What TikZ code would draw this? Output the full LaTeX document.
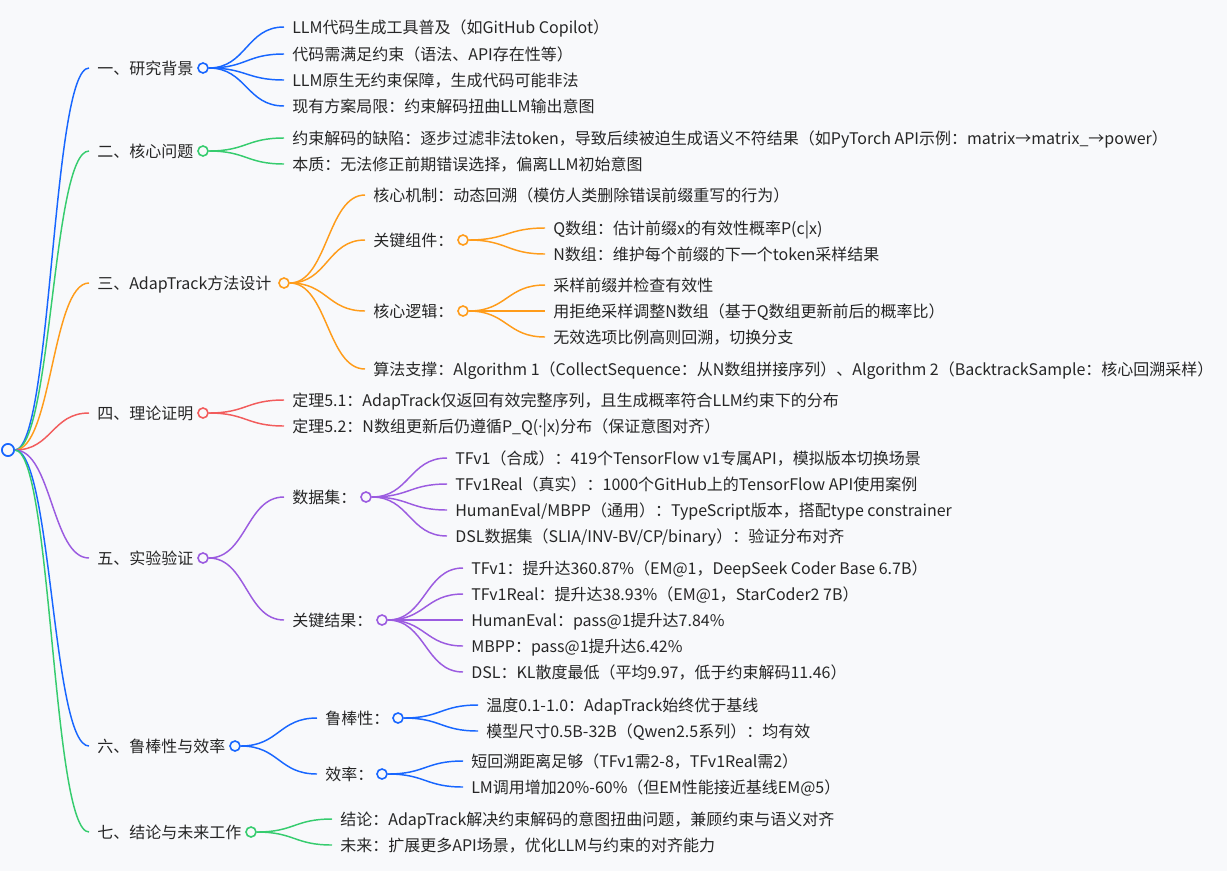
\documentclass[tikz,border=0pt]{standalone}
\usepackage{fontspec}
\setmainfont{Noto Sans CJK SC}
\newfontfamily\latinfont{Noto Sans}
\usetikzlibrary{calc}

\definecolor{paper}{HTML}{F8F9FB}
\definecolor{ink}{HTML}{262626}
\definecolor{mblue}{HTML}{1766FF}
\definecolor{mgreen}{HTML}{36CC6E}
\definecolor{morange}{HTML}{FF9C1A}
\definecolor{mred}{HTML}{F25C5C}
\definecolor{mpurple}{HTML}{9B5BE0}

\tikzset{
  lbl/.style={anchor=west, inner xsep=6pt, inner ysep=0pt, text height=10pt, text depth=1pt,
    text=ink, font=\fontsize{12}{14}\selectfont},
  dot/.style={circle, draw=#1, fill=paper, line width=1.2pt, minimum size=7.5pt, inner sep=0pt},
  mlink/.style={draw=#1, line width=1.1pt,
    to path={let \p1=(\tikztostart), \p2=(\tikztotarget) in
      .. controls ({(\x1+\x2)/2},\y1) and ({(\x1+\x2)/2},\y2) .. (\tikztotarget)}}
}

\begin{document}
\begin{tikzpicture}[x=0.75pt, y=-0.75pt]
  \fill[paper] (0,0) rectangle (1227,871);

  \node[dot=mblue, minimum size=9pt] (root) at (8,450) {};

  % 一
  \node[lbl] (k1) at (89,68) {一、研究背景};
  \node[dot=mblue] (k1o) at (203,68) {};
  \node[lbl] (k1a) at (284,27) {LLM代码生成工具普及（如GitHub Copilot）};
  \node[lbl] (k1b) at (284,54) {代码需满足约束（语法、API存在性等）};
  \node[lbl] (k1c) at (284,80) {LLM原生无约束保障，生成代码可能非法};
  \node[lbl] (k1d) at (284,106) {现有方案局限：约束解码扭曲LLM输出意图};
  \draw[mlink=mblue] (root.east) to (k1.west);
  \foreach \c in {k1a,k1b,k1c,k1d}
    \draw[mlink=mblue] (k1o.east) to (\c.west);

  % 二
  \node[lbl] (k2) at (89,151) {二、核心问题};
  \node[dot=mgreen] (k2o) at (203,151) {};
  \node[lbl] (k2a) at (284,138) {约束解码的缺陷：逐步过滤非法token，导致后续被迫生成语义不符结果（如PyTorch API示例：matrix→matrix\_→power）};
  \node[lbl] (k2b) at (284,164) {本质：无法修正前期错误选择，偏离LLM初始意图};
  \draw[mlink=mgreen] (root.east) to (k2.west);
  \foreach \c in {k2a,k2b}
    \draw[mlink=mgreen] (k2o.east) to (\c.west);

  % 三
  \node[lbl] (k3) at (89,283) {三、AdapTrack方法设计};
  \node[dot=morange] (k3o) at (284,283) {};
  \node[lbl] (k3a) at (365,195) {核心机制：动态回溯（模仿人类删除错误前缀重写的行为）};
  \node[lbl] (k3b) at (365,240) {关键组件：};
  \node[dot=morange] (k3bo) at (463,240) {};
  \node[lbl] (k3b1) at (545,228) {Q数组：估计前缀x的有效性概率P(c|x)};
  \node[lbl] (k3b2) at (545,254) {N数组：维护每个前缀的下一个token采样结果};
  \node[lbl] (k3c) at (365,311) {核心逻辑：};
  \node[dot=morange] (k3co) at (463,311) {};
  \node[lbl] (k3c1) at (545,285) {采样前缀并检查有效性};
  \node[lbl] (k3c2) at (545,311) {用拒绝采样调整N数组（基于Q数组更新前后的概率比）};
  \node[lbl] (k3c3) at (545,337) {无效选项比例高则回溯，切换分支};
  \node[lbl] (k3d) at (365,369) {算法支撑：Algorithm 1（CollectSequence：从N数组拼接序列）、Algorithm 2（BacktrackSample：核心回溯采样）};
  \draw[mlink=morange] (root.east) to (k3.west);
  \foreach \c in {k3a,k3b,k3c,k3d}
    \draw[mlink=morange] (k3o.east) to (\c.west);
  \foreach \c in {k3b1,k3b2}
    \draw[mlink=morange] (k3bo.east) to (\c.west);
  \foreach \c in {k3c1,k3c2,k3c3}
    \draw[mlink=morange] (k3co.east) to (\c.west);

  % 四
  \node[lbl] (k4) at (89,413) {四、理论证明};
  \node[dot=mred] (k4o) at (203,413) {};
  \node[lbl] (k4a) at (284,400) {定理5.1：AdapTrack仅返回有效完整序列，且生成概率符合LLM约束下的分布};
  \node[lbl] (k4b) at (284,426) {定理5.2：N数组更新后仍遵循P\_Q({\latinfont ·}|x)分布（保证意图对齐）};
  \draw[mlink=mred] (root.east) to (k4.west);
  \foreach \c in {k4a,k4b}
    \draw[mlink=mred] (k4o.east) to (\c.west);

  % 五
  \node[lbl] (k5) at (89,558) {五、实验验证};
  \node[dot=mpurple] (k5o) at (203,558) {};
  \node[lbl] (k5a) at (284,497) {数据集：};
  \node[dot=mpurple] (k5ao) at (366,497) {};
  \node[lbl] (k5a1) at (447,458) {TFv1（合成）：419个TensorFlow v1专属API，模拟版本切换场景};
  \node[lbl] (k5a2) at (447,484) {TFv1Real（真实）：1000个GitHub上的TensorFlow API使用案例};
  \node[lbl] (k5a3) at (447,510) {HumanEval/MBPP（通用）：TypeScript版本，搭配type constrainer};
  \node[lbl] (k5a4) at (447,536) {DSL数据集（SLIA/INV-BV/CP/binary）：验证分布对齐};
  \node[lbl] (k5b) at (284,620) {关键结果：};
  \node[dot=mpurple] (k5bo) at (382,620) {};
  \node[lbl] (k5b1) at (463,568) {TFv1：提升达360.87\%（EM@1，DeepSeek Coder Base 6.7B）};
  \node[lbl] (k5b2) at (463,594) {TFv1Real：提升达38.93\%（EM@1，StarCoder2 7B）};
  \node[lbl] (k5b3) at (463,620) {HumanEval：pass@1提升达7.84\%};
  \node[lbl] (k5b4) at (463,646) {MBPP：pass@1提升达6.42\%};
  \node[lbl] (k5b5) at (463,672) {DSL：KL散度最低（平均9.97，低于约束解码11.46）};
  \draw[mlink=mpurple] (root.east) to (k5.west);
  \foreach \c in {k5a,k5b}
    \draw[mlink=mpurple] (k5o.east) to (\c.west);
  \foreach \c in {k5a1,k5a2,k5a3,k5a4}
    \draw[mlink=mpurple] (k5ao.east) to (\c.west);
  \foreach \c in {k5b1,k5b2,k5b3,k5b4,k5b5}
    \draw[mlink=mpurple] (k5bo.east) to (\c.west);

  % 六
  \node[lbl] (k6) at (89,746) {六、鲁棒性与效率};
  \node[dot=mblue] (k6o) at (235,746) {};
  \node[lbl] (k6a) at (317,718) {鲁棒性：};
  \node[dot=mblue] (k6ao) at (398,718) {};
  \node[lbl] (k6a1) at (478,705) {温度0.1-1.0：AdapTrack始终优于基线};
  \node[lbl] (k6a2) at (478,731) {模型尺寸0.5B-32B（Qwen2.5系列）：均有效};
  \node[lbl] (k6b) at (317,774) {效率：};
  \node[dot=mblue] (k6bo) at (382,774) {};
  \node[lbl] (k6b1) at (463,761) {短回溯距离足够（TFv1需2-8，TFv1Real需2）};
  \node[lbl] (k6b2) at (463,787) {LM调用增加20\%-60\%（但EM性能接近基线EM@5）};
  \draw[mlink=mblue] (root.east) to (k6.west);
  \foreach \c in {k6a,k6b}
    \draw[mlink=mblue] (k6o.east) to (\c.west);
  \foreach \c in {k6a1,k6a2}
    \draw[mlink=mblue] (k6ao.east) to (\c.west);
  \foreach \c in {k6b1,k6b2}
    \draw[mlink=mblue] (k6bo.east) to (\c.west);

  % 七
  \node[lbl] (k7) at (89,832) {七、结论与未来工作};
  \node[dot=mgreen] (k7o) at (251,832) {};
  \node[lbl] (k7a) at (332,819) {结论：AdapTrack解决约束解码的意图扭曲问题，兼顾约束与语义对齐};
  \node[lbl] (k7b) at (332,845) {未来：扩展更多API场景，优化LLM与约束的对齐能力};
  \draw[mlink=mgreen] (root.east) to (k7.west);
  \foreach \c in {k7a,k7b}
    \draw[mlink=mgreen] (k7o.east) to (\c.west);

  \node[dot=mblue, minimum size=9pt] at (root) {};
\end{tikzpicture}
\end{document}
